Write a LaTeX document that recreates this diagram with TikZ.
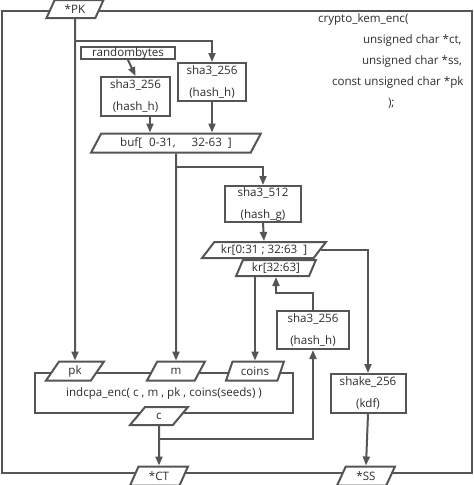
\documentclass[tikz,border=0pt]{standalone}
\usepackage{fontspec}
\setmainfont{Open Sans}
\usetikzlibrary{shapes.geometric,arrows.meta}
\definecolor{linegray}{RGB}{85,85,85}
\definecolor{textgray}{RGB}{45,45,45}

\begin{document}
\begin{tikzpicture}[x=1pt, y=-1pt, line width=2pt, color=linegray, text=textgray,
    >={Triangle[length=9pt,width=7pt]},
    font=\fontsize{11.6}{22}\selectfont,
    blk/.style={draw, rectangle, align=center, fill=white, inner sep=0pt},
    io/.style={draw, trapezium, trapezium left angle=65, trapezium right angle=115,
      trapezium stretches=true, fill=white, inner sep=0pt,
      minimum height=19pt, minimum width=58pt}]
    \useasboundingbox (0,0) rectangle (474,485);
    % outer frame and the indcpa_enc frame
    \draw (2,11) rectangle (472,473);
    \draw (35,373) rectangle (293,413);
    \node (enc) at (164,393) {indcpa\_enc( c , m , pk , coins(seeds) )};

    % signature text
    \node[anchor=west, inner sep=0pt] (sig1) at (317,19) {crypto\_kem\_enc(};
    \node[anchor=west, inner sep=0pt] (sig2) at (362,40) {unsigned char *ct,};
    \node[anchor=west, inner sep=0pt] (sig3) at (361,61) {unsigned char *ss,};
    \node[anchor=west, inner sep=0pt] (sig4) at (331,82) {const unsigned char *pk};
    \node[anchor=west, inner sep=0pt] (sig5) at (387,103) {);};

    % inputs / outputs
    \node[io, minimum width=57pt, minimum height=18pt] (PK) at (75,9) {*PK};
    \node[io] (pk) at (75,371) {pk};
    \node[io] (m) at (176,371) {m};
    \node[io] (coins) at (255,371) {coins};
    \node[io, minimum height=18pt] (c) at (159,416) {c};
    \node[io] (CT) at (159,476) {*CT};
    \node[io] (SS) at (366,476) {*SS};
    \node[io, minimum width=170pt, trapezium left angle=55, trapezium right angle=125] (buf) at (176,143)
      {buf[\hspace{7pt}0-31,\hspace{16pt}32-63\hspace{6pt}]};
    \node[io, minimum width=124pt, minimum height=16pt, trapezium left angle=45, trapezium right angle=135] (kr) at (264,250)
      {kr[0:31 ; 32:63\hspace{6pt}]};
    \node[io, minimum width=80pt, minimum height=16pt] (krB) at (276,268) {kr[32:63]};

    % hash blocks
    \node[blk, minimum width=94pt, minimum height=12pt] (rnd) at (128,53) {\raisebox{1pt}{randombytes}};
    \node[blk, minimum width=69pt, minimum height=39pt] (hashL) at (135.5,96.5) {sha3\_256\\(hash\_h)};
    \node[blk, minimum width=68pt, minimum height=38pt] (hashR) at (212,82) {sha3\_256\\(hash\_h)};
    \node[blk, minimum width=76pt, minimum height=36pt] (hashG) at (263,204) {sha3\_512\\(hash\_g)};
    \node[blk, minimum width=72pt, minimum height=38pt] (hashH) at (313,330) {sha3\_256\\(hash\_h)};
    \node[blk, minimum width=75pt, minimum height=39pt] (kdf) at (368,393.5) {shake\_256\\(kdf)};

    % connectors
    \coordinate (pkfork) at (75,41);
    \coordinate (buffork) at (176,167);
    \coordinate (cfork) at (159,439);
    \draw[->] (PK.south) -- (pk.north);
    \draw[->] (pkfork) -| (hashR.north);
    \draw[->] (rnd.south) -- (hashL.north);
    \draw[->] ([xshift=14.5pt]hashL.south) -- ([xshift=14.5pt]hashL.south |- buf.north);
    \draw[->] (hashR.south) -- (hashR.south |- buf.north);
    \draw[->] (buf.south) -- (m.north);
    \draw[->] (buffork) -| (hashG.north);
    \draw[->] (hashG.south) -- (kr.north);
    \draw[->] (kr.east) -| (kdf.north);
    \draw[->] (coins.north |- krB.south) -- (coins.north);
    \draw[->] (hashH.north) -- ++(0,-17) -| (krB.south);
    \draw[->] (c.south) -- (CT.north);
    \draw[->] (cfork) -| (hashH.south);
    \draw[->] (kdf.south) -- (SS.north);
\end{tikzpicture}
\end{document}
